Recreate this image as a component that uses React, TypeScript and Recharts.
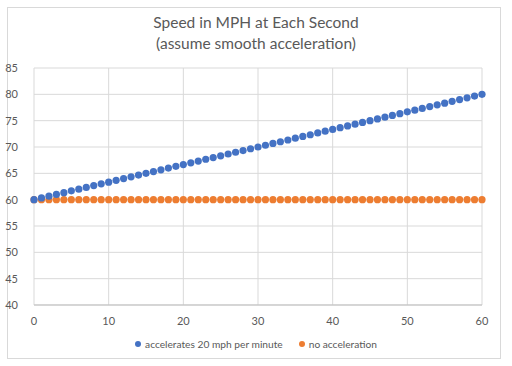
import React from 'react';
import { ScatterChart, Scatter, XAxis, YAxis, CartesianGrid } from 'recharts';

// seconds 0..60
const seconds = [
  0, 1, 2, 3, 4, 5, 6, 7, 8, 9, 10, 11, 12, 13, 14, 15, 16, 17, 18, 19, 20,
  21, 22, 23, 24, 25, 26, 27, 28, 29, 30, 31, 32, 33, 34, 35, 36, 37, 38, 39, 40,
  41, 42, 43, 44, 45, 46, 47, 48, 49, 50, 51, 52, 53, 54, 55, 56, 57, 58, 59, 60,
];

const accelerating = [
  60, 60.33, 60.67, 61, 61.33, 61.67, 62, 62.33, 62.67, 63, 63.33,
  63.67, 64, 64.33, 64.67, 65, 65.33, 65.67, 66, 66.33, 66.67,
  67, 67.33, 67.67, 68, 68.33, 68.67, 69, 69.33, 69.67, 70,
  70.33, 70.67, 71, 71.33, 71.67, 72, 72.33, 72.67, 73, 73.33,
  73.67, 74, 74.33, 74.67, 75, 75.33, 75.67, 76, 76.33, 76.67,
  77, 77.33, 77.67, 78, 78.33, 78.67, 79, 79.33, 79.67, 80,
];

const constant = [
  60, 60, 60, 60, 60, 60, 60, 60, 60, 60, 60,
  60, 60, 60, 60, 60, 60, 60, 60, 60, 60,
  60, 60, 60, 60, 60, 60, 60, 60, 60, 60,
  60, 60, 60, 60, 60, 60, 60, 60, 60, 60,
  60, 60, 60, 60, 60, 60, 60, 60, 60, 60,
  60, 60, 60, 60, 60, 60, 60, 60, 60, 60,
];

const xTicks = [0, 10, 20, 30, 40, 50, 60];
const yTicks = [40, 45, 50, 55, 60, 65, 70, 75, 80, 85];

const seriesNames = ['accelerates 20 mph per minute', 'no acceleration'];
const BLUE = '#4472C4';
const ORANGE = '#ED7D31';
const TEXT = '#595959';
const FONT = 'Lato, "Open Sans", sans-serif';

const blueData = seconds.map((s, i) => ({ x: s, y: accelerating[i] }));
const orangeData = seconds.map((s, i) => ({ x: s, y: constant[i] }));

const dot = (color: string) => (props: any) => (
  <circle cx={props.cx} cy={props.cy} r={3.6} fill={color} />
);

export default function App() {
  return (
    <div style={{ position: 'absolute', left: 0, top: 0, width: 512, height: 366, background: '#fff', fontFamily: FONT }}>
      <div
        style={{
          position: 'absolute', left: 7, top: 7, width: 494, height: 352,
          border: '1px solid #d9d9d9', boxSizing: 'border-box',
        }}
      />
      <div
        style={{
          position: 'absolute', left: 0, top: 12, width: 512, textAlign: 'center',
          fontSize: 15.5, lineHeight: '21px', color: TEXT,
        }}
      >
        Speed in MPH at Each Second
        <br />
        (assume smooth acceleration)
      </div>
      <div style={{ position: 'absolute', left: 0, top: 0 }}>
        <ScatterChart width={512} height={366} margin={{ top: 68, right: 30, bottom: 36, left: 4 }}>
          <CartesianGrid stroke="#d9d9d9" strokeWidth={1} />
          <XAxis
            type="number"
            dataKey="x"
            domain={[0, 60]}
            ticks={xTicks}
            tickLine={false}
            axisLine={{ stroke: '#bfbfbf' }}
            tick={{ fontSize: 11, fill: TEXT, fontFamily: FONT }}
            tickMargin={6}
            height={25}
          />
          <YAxis
            type="number"
            dataKey="y"
            domain={[40, 85]}
            ticks={yTicks}
            tickLine={false}
            axisLine={false}
            tick={{ fontSize: 11, fill: TEXT, fontFamily: FONT }}
            tickMargin={10}
            width={30}
          />
          <Scatter data={orangeData} fill={ORANGE} shape={dot(ORANGE)} isAnimationActive={false} />
          <Scatter data={blueData} fill={BLUE} shape={dot(BLUE)} isAnimationActive={false} />
        </ScatterChart>
      </div>
      <div
        style={{
          position: 'absolute', left: 0, top: 336, width: 512, display: 'flex',
          justifyContent: 'center', fontSize: 10.2, color: TEXT, lineHeight: '16px',
        }}
      >
        {seriesNames.map((name, i) => (
          <div key={name} style={{ display: 'flex', alignItems: 'center', marginRight: i === 0 ? 16 : 0 }}>
            <span
              style={{
                display: 'inline-block', width: 6, height: 6, borderRadius: 3,
                background: i === 0 ? BLUE : ORANGE, marginRight: 4,
              }}
            />
            {name}
          </div>
        ))}
      </div>
    </div>
  );
}
